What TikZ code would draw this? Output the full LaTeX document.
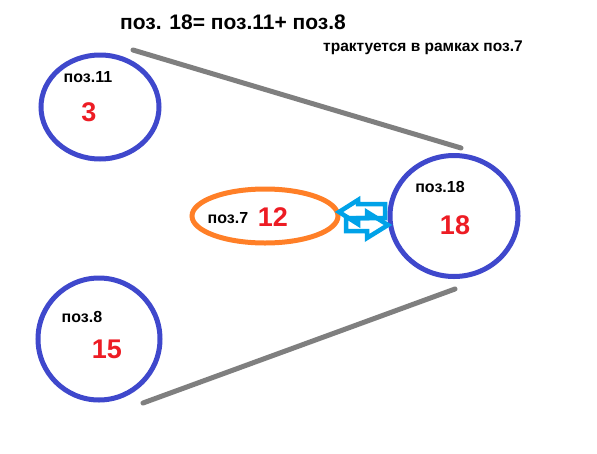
\documentclass[tikz,border=0pt]{standalone}
\usepackage{fontspec}
\setmainfont{Liberation Sans}
\usetikzlibrary{shapes.geometric}
\definecolor{cblue}{RGB}{63,72,204}
\definecolor{cred}{RGB}{237,28,36}
\definecolor{corange}{RGB}{255,127,39}
\definecolor{ccyan}{RGB}{0,162,232}
\definecolor{cgray}{RGB}{127,127,127}
\tikzset{
  ring/.style={draw=cblue, line width=5pt, ellipse, inner sep=0pt},
  oring/.style={draw=corange, line width=5pt, ellipse, inner sep=0pt},
  lbl/.style={font=\bfseries\fontsize{16}{16}\selectfont, inner sep=0pt},
  num/.style={font=\bfseries\fontsize{27}{27}\selectfont, text=cred, inner sep=0pt},
  bar/.style={draw=cgray, line width=5pt, line cap=round},
  blk/.style={draw=ccyan, line width=4.5pt, line join=miter}
}
\begin{document}
\begin{tikzpicture}[x=1pt,y=-1pt]
\useasboundingbox (0,0) rectangle (597,453);
% circles
\node[ring, minimum width=118pt, minimum height=104pt] (c11) at (100,107) {};
\node[ring, minimum width=128pt, minimum height=121pt] (c18) at (454,216) {};
\node[ring, minimum width=122pt, minimum height=122pt] (c8) at (99,339) {};
\node[oring, minimum width=146pt, minimum height=54pt] (e7) at (265,216) {};
% gray connectors
\coordinate (a1) at (133,50);
\coordinate (a2) at (461,148);
\coordinate (b1) at (143,403);
\coordinate (b2) at (455,289);
\draw[bar] (a1) -- (a2);
\draw[bar] (b1) -- (b2);
% double arrow
\coordinate (la) at (339,212);
\coordinate (ra) at (388,225);
\draw[blk] (la) -- (358,200) -- (358,204) -- (385,204) -- (385,218) -- (358,218) -- (358,224) -- cycle;
\draw[blk] (346,218) -- (367,218) -- (367,212) -- (ra) -- (367,238) -- (367,231) -- (346,231) -- cycle;
% texts
\node[font=\bfseries\fontsize{21}{21}\selectfont, inner sep=0pt] (title) at (233,22) {поз. 18= поз.11+ поз.8};
\node[font=\bfseries\fontsize{15.5}{15.5}\selectfont, inner sep=0pt] (note) at (423,48) {трактуется в рамках поз.7};
\node[lbl] (l11) at (88,77) {поз.11};
\node[num] (n11) at (89,112) {3};
\node[lbl] (l7) at (228,218) {поз.7};
\node[num] (n7) at (273,217) {12};
\node[lbl] (l18) at (440,187) {поз.18};
\node[num] (n18) at (455,225) {18};
\node[lbl] (l8) at (82,317) {поз.8};
\node[num] (n8) at (107,349) {15};
\end{tikzpicture}
\end{document}
